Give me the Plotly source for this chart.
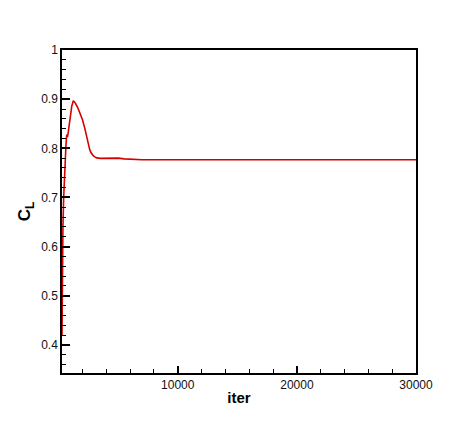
import plotly.graph_objects as go

iters = [280, 300, 330, 360, 420, 490, 560, 620, 680, 740, 800, 900, 1000, 1100, 1230,
         1400, 1600, 1800, 2000, 2200, 2400, 2500, 2600, 2700, 2800, 2900, 3000, 3200, 3500, 3800, 4200,
         4600, 5000, 5500, 6000, 6500, 7000, 30000]
cl = [0.42, 0.50, 0.58, 0.64, 0.70, 0.75, 0.79, 0.81, 0.828, 0.823, 0.832, 0.852, 0.870, 0.886, 0.897,
      0.892, 0.883, 0.872, 0.858, 0.840, 0.818, 0.807, 0.798, 0.792, 0.788, 0.785, 0.783, 0.7805, 0.7795, 0.7797, 0.7805,
      0.7805, 0.780, 0.7785, 0.7775, 0.777, 0.7768, 0.7768]

x_range = [280, 30000]
y_range = [0.343, 1.0]
x_ticks = [10000, 20000, 30000]
y_ticks = [0.4, 0.5, 0.6, 0.7, 0.8, 0.9, 1.0]
y_ticklabels = ["0.4", "0.5", "0.6", "0.7", "0.8", "0.9", "1"]

fig = go.Figure()
fig.add_trace(go.Scatter(x=iters, y=cl, mode="lines",
                         line=dict(color="#d40000", width=1.6), showlegend=False))

font = "Liberation Sans, Arial, sans-serif"
fig.update_layout(
    width=466, height=413,
    margin=dict(l=54, r=58, t=42, b=48),
    paper_bgcolor="white", plot_bgcolor="white",
    font=dict(family=font, size=12, color="#111"),
)
fig.update_xaxes(
    range=x_range, tickvals=x_ticks, ticktext=[str(v) for v in x_ticks],
    showgrid=False, zeroline=False, showline=True, linecolor="black", linewidth=1.5, mirror=True,
    ticks="inside", ticklen=7, tickwidth=1.5, tickcolor="black",
    minor=dict(dtick=2000, tick0=0, ticks="inside", ticklen=4, tickwidth=1, tickcolor="black", showgrid=False),
    title=dict(text="<b>iter</b>", font=dict(size=15, color="black"), standoff=1),
    tickfont=dict(size=12, color="#111"),
)
fig.update_yaxes(
    range=y_range, tickvals=y_ticks, ticktext=y_ticklabels,
    showgrid=False, zeroline=False, showline=True, linecolor="black", linewidth=1.5, mirror=True,
    ticks="inside", ticklen=8, tickwidth=1.5, tickcolor="black",
    minor=dict(dtick=0.02, tick0=0, ticks="inside", ticklen=4, tickwidth=1, tickcolor="black", showgrid=False),
    title=dict(text="<b>C<sub>L</sub></b>", font=dict(size=17, color="black"), standoff=6),
    tickfont=dict(size=12, color="#111"),
)

fig.write_html("out.html")
